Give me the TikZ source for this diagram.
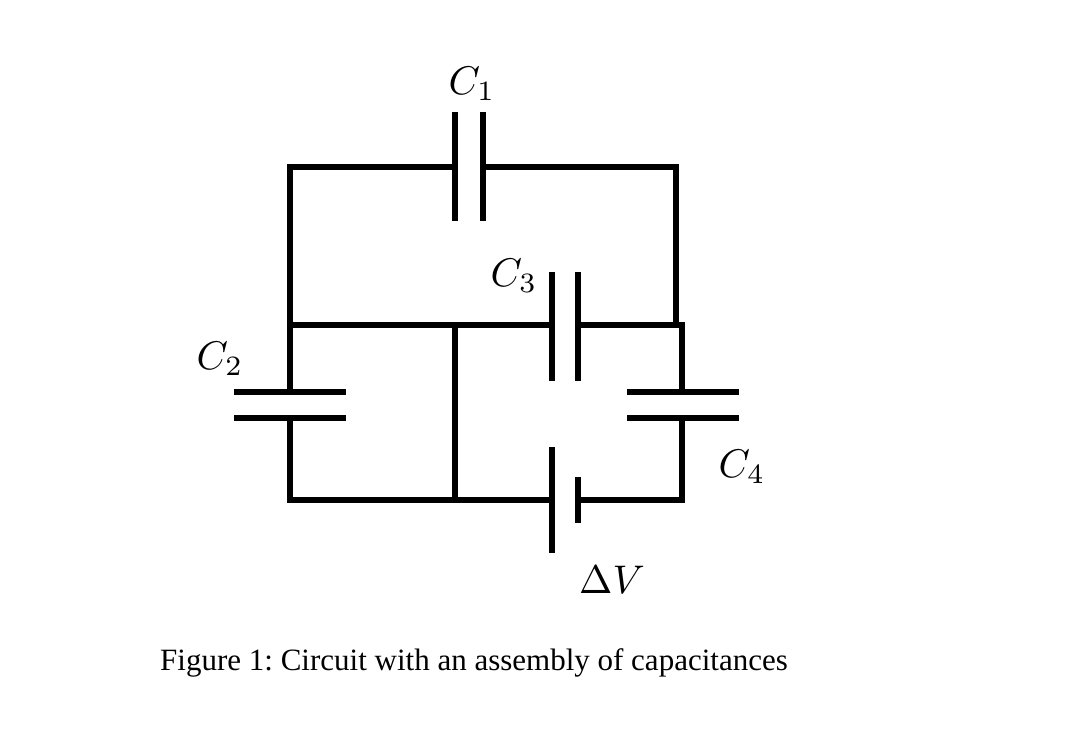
\documentclass[tikz,border=0pt]{standalone}
\usepackage{fontspec}
\newfontfamily\capfont{Liberation Serif}
\newcommand{\lb}[1]{\scalebox{4}{$#1$}}
\begin{document}
\frenchspacing
\begin{tikzpicture}[x=1pt,y=-1pt,w/.style={line width=5.5pt,line cap=rect}]
\useasboundingbox (0,0) rectangle (1076,736);
% coordinates
\coordinate (tl) at (290,167); \coordinate (c1a) at (455,167); \coordinate (c1b) at (483,167);
\coordinate (tr) at (676,167); \coordinate (mr) at (676,325);
\coordinate (ml) at (290,325); \coordinate (mj) at (455,325); \coordinate (bj) at (455,500);
\coordinate (bl) at (290,500);
\coordinate (c3a) at (552,325); \coordinate (c3b) at (578,325); \coordinate (rr) at (682,325);
\coordinate (c4a) at (682,392); \coordinate (c4b) at (682,418); \coordinate (br) at (682,500);
\coordinate (bva) at (552,500); \coordinate (bvb) at (578,500);
\coordinate (c2a) at (290,392); \coordinate (c2b) at (290,418);
% wires
\draw[w] (c1a) -- (tl) -- (c2a);
\draw[w] (c2b) -- (bl) -- (bj) -- (mj) -- (ml);
\draw[w] (c1b) -- (tr) -- (mr);
\draw[w] (mj) -- (c3a);
\draw[w] (c3b) -- (rr) -- (c4a);
\draw[w] (c4b) -- (br) -- (bvb);
\draw[w] (bva) -- (bj);
% plates
\draw[w] (455,115) -- (455,218); \draw[w] (483,115) -- (483,218);
\draw[w] (552,275) -- (552,378); \draw[w] (578,275) -- (578,378);
\draw[w] (237,392) -- (343,392); \draw[w] (237,418) -- (343,418);
\draw[w] (630,392) -- (736,392); \draw[w] (630,418) -- (736,418);
\draw[w] (552,450) -- (552,550); \draw[w] (578,480) -- (578,520);
% labels
\node (l1) at (472,84) {\lb{C_1}};
\node (l3) at (514,276) {\lb{C_3}};
\node (l2) at (220,359) {\lb{C_2}};
\node (l4) at (742,467) {\lb{C_4}};
\node (lv) at (612,580) {\lb{\Delta V}};
\node[font=\capfont\fontsize{31}{36}\selectfont] (cap) at (474,663) {Figure 1: Circuit with an assembly of capacitances};
\end{tikzpicture}
\end{document}
